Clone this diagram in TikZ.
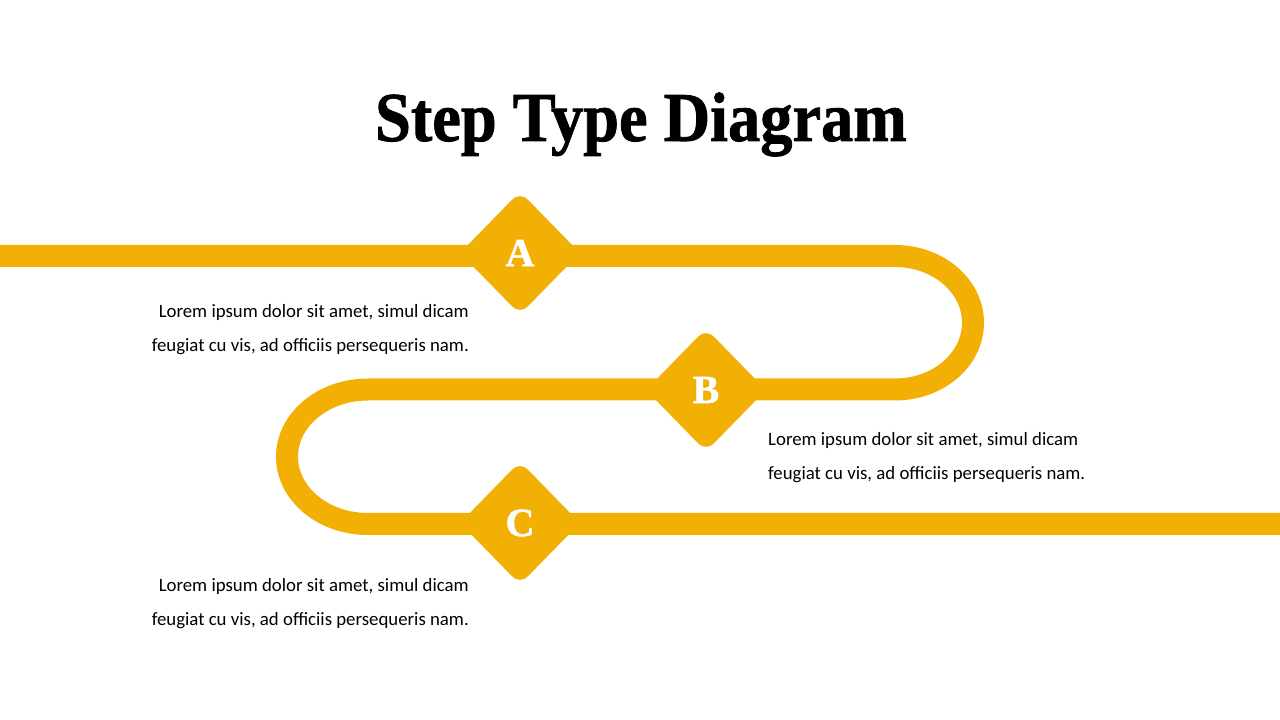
\documentclass[tikz,border=0pt]{standalone}
\usepackage{fontspec}
\setmainfont{Carlito}
\newfontfamily\heavyfont[FakeBold=1.2]{Liberation Serif Bold}
\usetikzlibrary{shapes.geometric}
\definecolor{gold}{HTML}{F2B005}
\tikzset{
  track/.style={draw=gold, line width=22pt},
  stepdiamond/.style={shape=diamond, fill=gold, inner sep=0pt, minimum width=120pt, minimum height=123pt, rounded corners=11pt, text=white, font=\heavyfont\fontsize{40}{40}\selectfont},
  body/.style={inner sep=0pt, font=\fontsize{18.8}{34}\selectfont, text=black},
}
\begin{document}
\begin{tikzpicture}[x=1pt,y=1pt]
\useasboundingbox (0,0) rectangle (1280,720);
\fill[white] (0,0) rectangle (1280,720);
\node[anchor=base, font=\heavyfont\fontsize{70}{70}\selectfont] (title) at (641,579) {\scalebox{0.92}[1]{Step Type Diagram}};
\coordinate (start) at (0,464);
\coordinate (r1) at (895,464);
\coordinate (l1) at (368,330.5);
\coordinate (stop) at (1280,196);
\draw[track] (start) -- (r1) arc[start angle=90,end angle=-90,x radius=78,y radius=66.75] -- (l1) arc[start angle=90,end angle=270,x radius=81,y radius=67.25] -- (stop);
\node[stepdiamond] (a) at (520,467) {A};
\node[stepdiamond] (b) at (706,330) {B};
\node[stepdiamond] (c) at (520,197) {C};
\node[body, align=right, anchor=north east] (ta) at (469,416) {Lorem ipsum dolor sit amet, simul dicam\\feugiat cu vis, ad officiis persequeris nam.};
\node[body, align=left, anchor=north west] (tb) at (768,288) {Lorem ipsum dolor sit amet, simul dicam\\feugiat cu vis, ad officiis persequeris nam.};
\node[body, align=right, anchor=north east] (tc) at (469,142) {Lorem ipsum dolor sit amet, simul dicam\\feugiat cu vis, ad officiis persequeris nam.};
\end{tikzpicture}
\end{document}
